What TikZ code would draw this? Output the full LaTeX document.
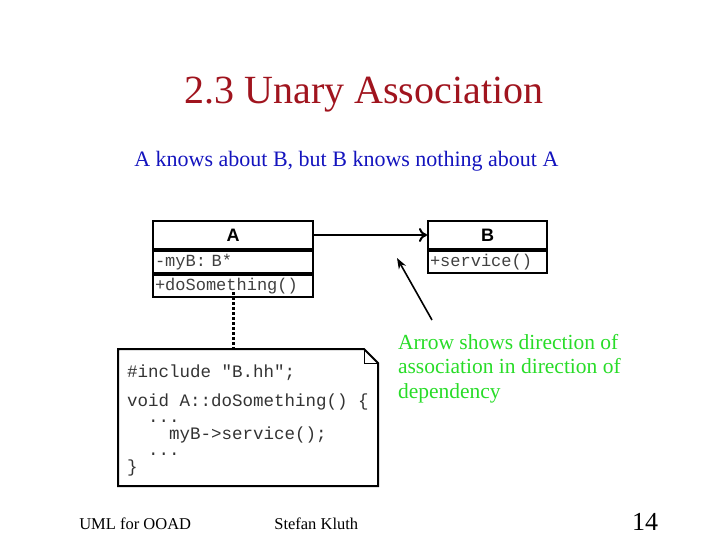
\documentclass[tikz,border=0pt]{standalone}
\usepackage{fontspec}
\setmainfont{Liberation Serif}
\setsansfont{Liberation Sans}
\setmonofont{Liberation Mono}
\usepackage{xcolor}
\usetikzlibrary{arrows, arrows.meta}
\definecolor{titlered}{RGB}{160,20,30}
\definecolor{subblue}{RGB}{20,20,190}
\definecolor{notegreen}{RGB}{40,220,40}
\begin{document}
\begin{tikzpicture}[x=1pt,y=-1pt,line width=2pt,
  cls/.style={draw,minimum height=28pt,inner sep=0pt,font=\sffamily\bfseries\fontsize{18}{18}\selectfont},
  row/.style={draw,minimum height=22pt,inner sep=2pt,anchor=north west,font=\ttfamily\fontsize{17}{17}\selectfont,align=left,text=black!75}]
\useasboundingbox (0,0) rectangle (728,546);
\node[text=titlered,font=\fontsize{40}{40}\selectfont] (title) at (364,95) {2.3 Unary Association};
\node[text=subblue,font=\fontsize{22}{22}\selectfont,anchor=west] (sub) at (130,161) {A knows about B, but B knows nothing about A};
% class A
\node[cls,minimum width=160pt,anchor=north west] (A) at (152,220) {A};
\node[row,text width=156pt] (Aatt) at (A.south west) {-myB: B*};
\node[row,text width=156pt] (Aop) at (Aatt.south west) {+doSomething()};
% class B
\node[cls,minimum width=119pt,anchor=north west] (B) at (427,220) {B};
\node[row,text width=115pt] (Batt) at (B.south west) {+service()};
\draw[-{To[length=8pt,width=14pt]}] (A.east) -- (B.west);
% note
\coordinate (nA) at (233,292);
\coordinate (nB) at (233,349);
\draw[dotted,line width=3pt] (nA) -- (nB);
\draw (118,349) -- (364,349) -- (378,363) -- (378,486) -- (118,486) -- cycle;
\draw[line width=1pt] (364,349) -- (364,363) -- (378,363);
\node[anchor=north west,align=left,font=\ttfamily\fontsize{17.5}{16.5}\selectfont,inner sep=0pt,text=black!80] (code) at (126,364)
  {\#include "B.hh";\\[12pt]void A::doSomething() \{\\\ \ ...\\\ \ \ \ myB->service();\\\ \ ...\\\}};
% comment
\node[text=notegreen,anchor=north west,align=left,inner sep=0pt,font=\fontsize{21.5}{24.5}\selectfont] (cmt) at (397,333)
  {Arrow shows direction of\\association in direction of\\dependency};
\coordinate (pt) at (397,258);
\coordinate (pf) at (432,320);
\draw[-{Stealth[length=11pt,width=8pt]},line width=1.6pt] (pf) -- (pt);
% footer
\node[anchor=west,font=\fontsize{16.5}{16.5}\selectfont] (f1) at (75,524) {UML for OOAD};
\node[anchor=west,font=\fontsize{16.5}{16.5}\selectfont] (f2) at (270,524) {Stefan Kluth};
\node[font=\fontsize{26}{26}\selectfont] (f3) at (645,522) {14};
\end{tikzpicture}
\end{document}
